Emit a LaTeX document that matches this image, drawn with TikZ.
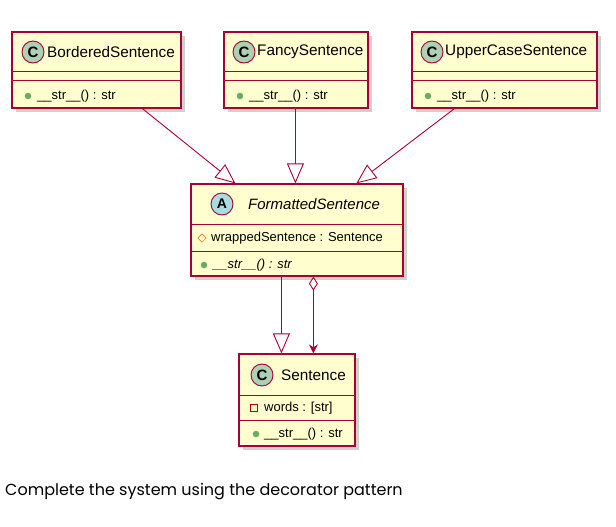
\documentclass[tikz,border=0pt]{standalone}
\usepackage{fontspec}
\setmainfont{Liberation Sans}
\newfontfamily\popp{Poppins}
\usetikzlibrary{arrows.meta,calc}
\definecolor{cfill}{HTML}{FEFECE}
\definecolor{cline}{HTML}{A80036}
\definecolor{cC}{HTML}{ADD1B2}
\definecolor{cA}{HTML}{A9DCDF}
\tikzset{
  x=1pt,y=-1pt,
  box/.style={draw=cline,fill=cfill,line width=1.2pt,inner sep=0pt},
  shad/.style={fill=black!30,draw=none,opacity=0.6},
  circ/.style={circle,draw=cline,line width=0.9pt,minimum size=22pt,inner sep=0pt,font=\bfseries\fontsize{15}{15}\selectfont},
  hd/.style={anchor=west,font=\fontsize{15.3}{17}\selectfont,inner sep=0pt},
  mem/.style={anchor=west,font=\fontsize{13}{14}\selectfont,inner sep=0pt},
  con/.style={draw=cline,line width=0.9pt},
  inh/.style={con,-{Triangle[open,length=20pt,width=17pt,fill=white]}},
  pub/.style={circle,fill=green!45!black!60,inner sep=0pt,minimum size=6.5pt},
}
\newcommand{\umlbox}[7]{% name x1 y1 x2 y2 s1 s2
  \fill[shad] (#2+4,#3+4) rectangle (#4+4,#5+4);
  \node[box,minimum width=#4-#2,minimum height=#5-#3] (#1) at ({(#2+#4)/2},{(#3+#5)/2}) {};
  \draw[cline,line width=1pt] (#2,#6) -- (#4,#6) (#2,#7) -- (#4,#7);
}
\begin{document}
\begin{tikzpicture}
\useasboundingbox[fill=white] (0,0) rectangle (616,527);
% boxes
\umlbox{bs}{12}{32}{181}{108}{72}{81}
\umlbox{fs}{224}{32}{368}{108}{72}{81}
\umlbox{us}{412}{32}{597}{108}{72}{81}
\umlbox{fm}{191}{184}{403}{276}{224}{251}
\umlbox{se}{239}{354}{355}{446}{395}{420}
% headers
\node[circ,fill=cC] (bsc) at (33,52) {C};
\node[hd] (bst) at (47,52) {BorderedSentence};
\node[circ,fill=cC] (fsc) at (244,52) {C};
\node[hd] (fst) at (257,52) {FancySentence};
\node[circ,fill=cC] (usc) at (432,52) {C};
\node[hd] (ust) at (445,52) {UpperCaseSentence};
\node[circ,fill=cA,font=\rmfamily\bfseries\fontsize{14}{14}\selectfont] (fmc) at (222,204) {A};
\node[hd,font=\itshape\fontsize{15}{17}\selectfont] (fmt) at (248,204) {FormattedSentence};
\node[circ,fill=cC] (sec) at (262,375) {C};
\node[hd] (set) at (281,375) {Sentence};
% members
\foreach \n/\x/\y in {b/28/96,f/240/96,u/428/96,m/204/265,s/256/434}{
  \node[pub] (p\n) at (\x,\y) {};
}
\node[mem] (bsm) at (37,96) {\_\_str\_\_() : str};
\node[mem] (fsm) at (249,96) {\_\_str\_\_() : str};
\node[mem] (usm) at (437,96) {\_\_str\_\_() : str};
\node[draw=orange!70!brown,line width=0.7pt,rotate=45,minimum size=6pt,inner sep=0pt] (fmd) at (202,238) {};
\node[mem] (fma) at (211,238) {wrappedSentence : Sentence};
\node[mem,font=\itshape\fontsize{13}{14}\selectfont] (fmm) at (213,265) {\_\_str\_\_() : str};
\node[draw=red!70!black,line width=0.7pt,minimum size=7pt,inner sep=0pt] (sea) at (254,408) {};
\node[mem] (sead) at (264,408) {words : [str]};
\node[mem] (sem) at (264,434) {\_\_str\_\_() : str};
% connectors
\draw[inh] ($(bs.south west)+(131,0)$) -- ($(fm.north west)+(45,0)$);
\draw[inh] ($(fs.south west)+(72,0)$) -- ($(fm.north west)+(105,0)$);
\draw[inh] ($(us.south west)+(43,0)$) -- ($(fm.north west)+(166,0)$);
\draw[inh] ($(fm.south west)+(91,0)$) -- ($(se.north west)+(43,0)$);
\draw[con,{Diamond[open,length=14pt,width=9pt,fill=white]}-{Stealth[length=9pt,width=9pt]}] ($(fm.south west)+(123,0)$) -- ($(se.north west)+(75,0)$);
% caption
\node[anchor=west,inner sep=0pt,font=\popp\fontsize{16}{18}\selectfont] (cap) at (5,492) {Complete the system using the decorator pattern};
\end{tikzpicture}
\end{document}
